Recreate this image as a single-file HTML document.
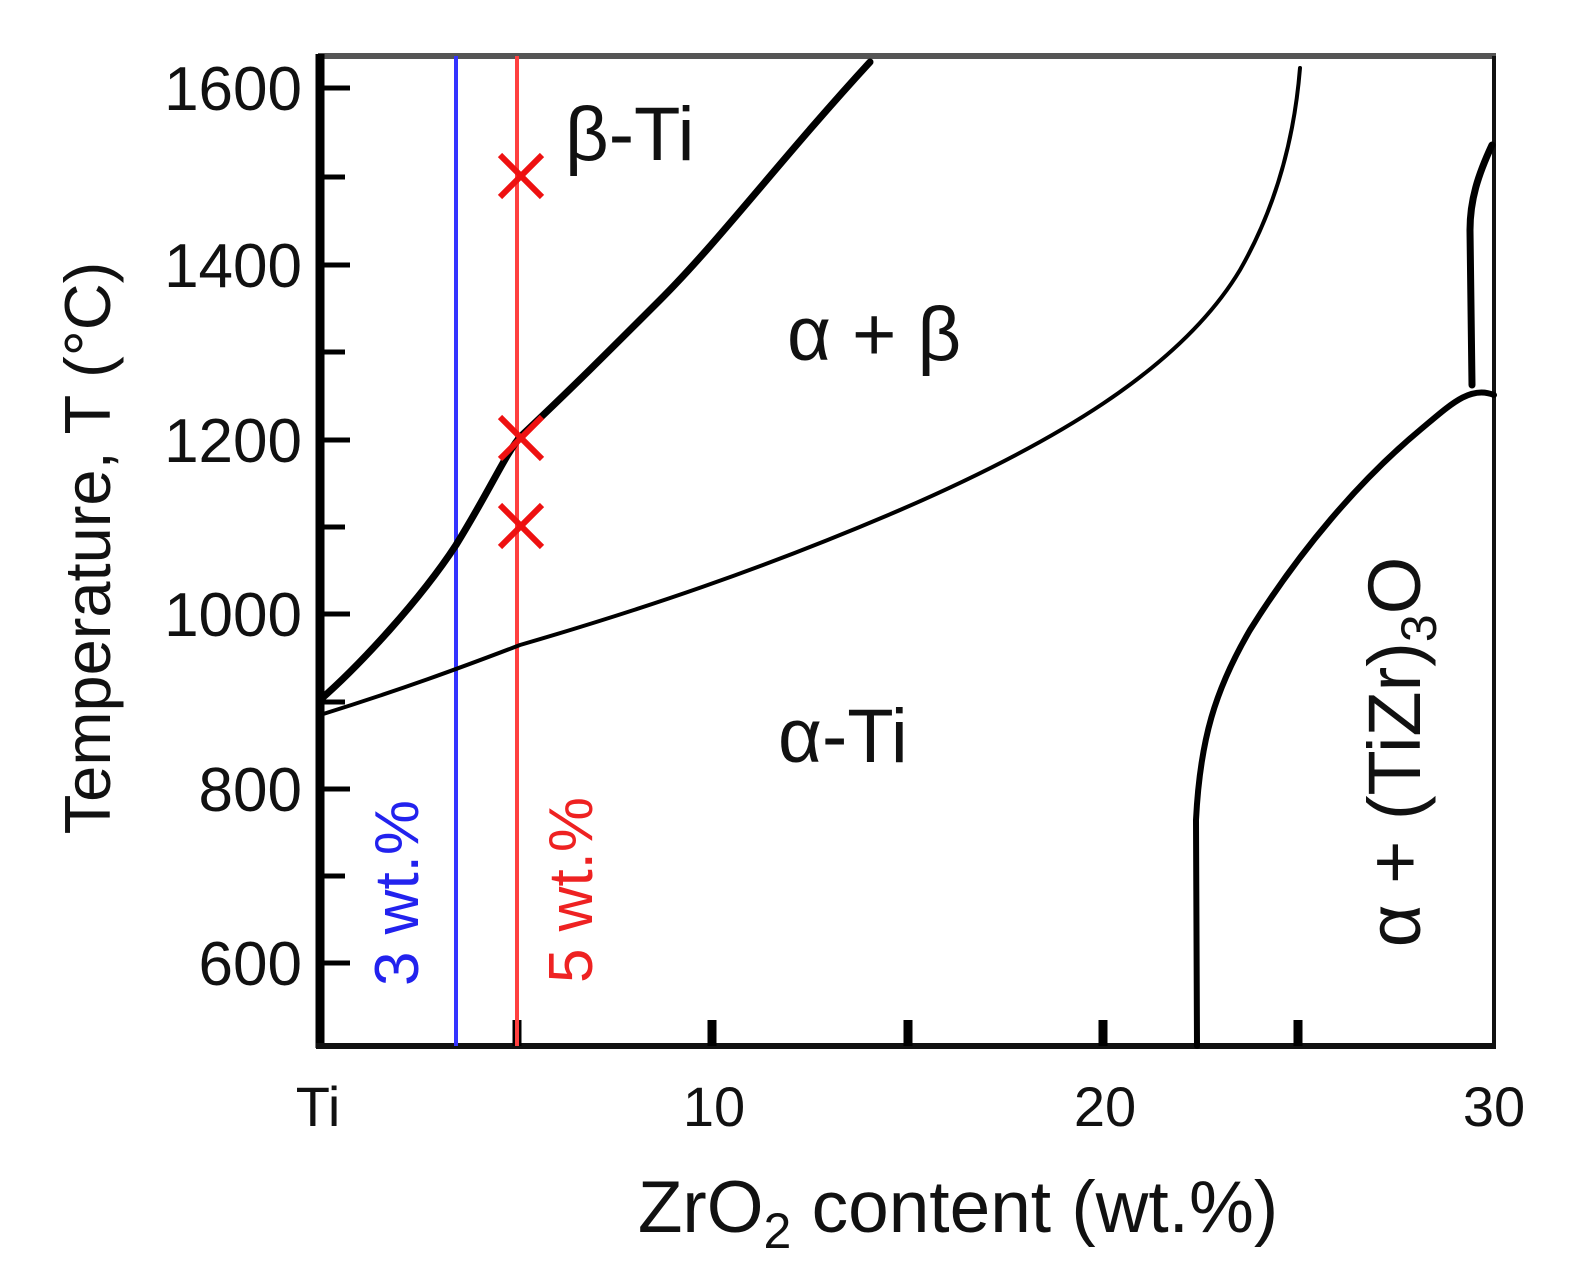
<!DOCTYPE html>
<html><head><meta charset="utf-8"><style>
html,body{margin:0;padding:0;background:#fff;}
svg{display:block;}
text{font-family:"Liberation Sans",sans-serif;}
</style></head><body>
<svg width="1576" height="1288" viewBox="0 0 1576 1288" xmlns="http://www.w3.org/2000/svg">
<rect width="1576" height="1288" fill="#fff"/>
<!-- frame -->
<line x1="318" y1="56" x2="1496" y2="56" stroke="#555" stroke-width="6"/>
<line x1="1494" y1="56" x2="1494" y2="1048" stroke="#111" stroke-width="4"/>
<line x1="320" y1="54" x2="320" y2="1048" stroke="#000" stroke-width="9"/>
<line x1="316" y1="1046" x2="1496" y2="1046" stroke="#111" stroke-width="6"/>
<!-- y ticks -->
<g stroke="#000" stroke-width="5">
<line x1="320" y1="88" x2="350" y2="88"/><line x1="320" y1="177" x2="345" y2="177"/>
<line x1="320" y1="265" x2="350" y2="265"/><line x1="320" y1="352" x2="345" y2="352"/>
<line x1="320" y1="440" x2="350" y2="440"/><line x1="320" y1="527" x2="345" y2="527"/>
<line x1="320" y1="614" x2="350" y2="614"/><line x1="320" y1="702" x2="345" y2="702"/>
<line x1="320" y1="789" x2="350" y2="789"/><line x1="320" y1="876" x2="345" y2="876"/>
<line x1="320" y1="963" x2="350" y2="963"/>
</g>
<!-- x ticks -->
<g stroke="#000" stroke-width="9">
<line x1="517" y1="1046" x2="517" y2="1020"/><line x1="712" y1="1046" x2="712" y2="1020"/>
<line x1="908" y1="1046" x2="908" y2="1020"/><line x1="1103" y1="1046" x2="1103" y2="1020"/>
<line x1="1298" y1="1046" x2="1298" y2="1020"/>
</g>
<!-- tick labels -->
<g font-size="62" fill="#111" text-anchor="end">
<text x="302" y="110">1600</text><text x="302" y="287">1400</text><text x="302" y="462">1200</text>
<text x="302" y="636">1000</text><text x="302" y="811">800</text><text x="302" y="985">600</text>
</g>
<g font-size="56" fill="#111" text-anchor="middle">
<text x="318" y="1126">Ti</text><text x="714" y="1126">10</text><text x="1105" y="1126">20</text><text x="1494" y="1126">30</text>
</g>
<text x="958" y="1232" font-size="73" text-anchor="middle" fill="#111">ZrO<tspan font-size="50" dy="16">2</tspan><tspan dy="-16"> content (wt.%)</tspan></text>
<text transform="translate(110,548) rotate(-90)" font-size="65" text-anchor="middle" fill="#111">Temperature, T (°C)</text>
<!-- composition lines -->
<line x1="456" y1="56" x2="456" y2="1046" stroke="#3333ff" stroke-width="4"/>
<line x1="517" y1="56" x2="517" y2="1046" stroke="#ff4040" stroke-width="4"/>
<text transform="translate(418,893) rotate(-90)" font-size="62" fill="#2222ee" text-anchor="middle">3 wt.%</text>
<text transform="translate(592,890) rotate(-90)" font-size="62" fill="#ee2222" text-anchor="middle">5 wt.%</text>
<!-- curves -->
<g fill="none" stroke="#000" stroke-linecap="round">
<path d="M320,700 C360,665 420,600 456,545 C490,490 505,455 520,437 C570,390 610,350 660,300 C720,240 780,160 870,62" stroke-width="7"/>
<path d="M320,715 C400,690 460,668 520,645 C640,610 760,570 900,510 C1050,445 1180,370 1240,270 C1280,200 1295,130 1300,68" stroke-width="4"/>
<path d="M1197,1046 L1196,820 C1200,740 1215,690 1250,630 C1300,550 1360,480 1420,430 C1450,405 1470,385 1494,395" stroke-width="6"/>
<path d="M1472,385 L1470,230 C1470,200 1478,175 1492,145" stroke-width="7"/>
</g>
<!-- markers -->
<g stroke="#ee1111" stroke-width="6">
<line x1="500" y1="155" x2="542" y2="197"/><line x1="542" y1="155" x2="500" y2="197"/>
<line x1="500" y1="417" x2="542" y2="459"/><line x1="542" y1="417" x2="500" y2="459"/>
<line x1="500" y1="505" x2="542" y2="547"/><line x1="542" y1="505" x2="500" y2="547"/>
</g>
<!-- region labels -->
<g font-size="76" fill="#111">
<text x="565" y="160">β-Ti</text>
<text x="787" y="360">α + β</text>
<text x="778" y="762">α-Ti</text>
</g>
<text transform="translate(1420,752) rotate(-90)" font-size="74" fill="#111" text-anchor="middle">α + (TiZr)<tspan font-size="50" dy="16">3</tspan><tspan dy="-16">O</tspan></text>
</svg>
</body></html>
